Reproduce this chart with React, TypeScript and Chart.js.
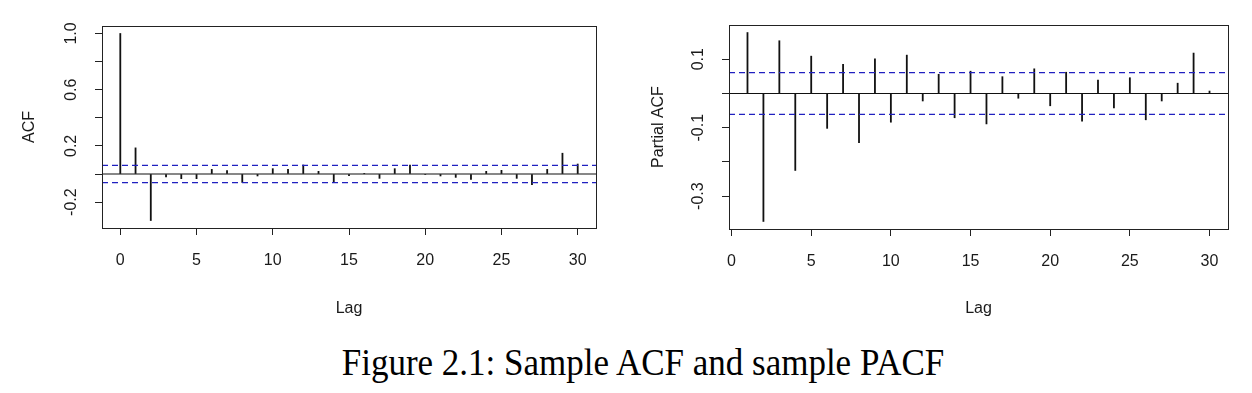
import React, { useEffect, useRef } from 'react';
import { Chart, registerables } from 'chart.js';

Chart.register(...registerables);

// ---------- data ----------
const acfLags = [0, 1, 2, 3, 4, 5, 6, 7, 8, 9, 10, 11, 12, 13, 14, 15, 16, 17, 18, 19, 20, 21, 22, 23, 24, 25, 26, 27, 28, 29, 30];
const acfValues = [1.0, 0.186, -0.331, -0.021, -0.033, -0.033, 0.033, 0.024, -0.06, -0.014, 0.038, 0.033, 0.064, 0.019, -0.06, -0.012, 0.002, -0.031, 0.038, 0.064, -0.003, -0.014, -0.024, -0.038, 0.019, 0.026, -0.031, -0.076, 0.033, 0.148, 0.071];

const pacfLags = [1, 2, 3, 4, 5, 6, 7, 8, 9, 10, 11, 12, 13, 14, 15, 16, 17, 18, 19, 20, 21, 22, 23, 24, 25, 26, 27, 28, 29, 30];
const pacfValues = [0.178, -0.374, 0.154, -0.225, 0.109, -0.102, 0.085, -0.144, 0.101, -0.084, 0.112, -0.022, 0.056, -0.071, 0.065, -0.089, 0.049, -0.014, 0.072, -0.036, 0.062, -0.081, 0.039, -0.042, 0.046, -0.077, -0.022, 0.03, 0.118, 0.007];

const confLimit = 0.061;

const xTickValues = [0, 5, 10, 15, 20, 25, 30];
const acfYTickValues = [-0.2, 0, 0.2, 0.4, 0.6, 0.8, 1.0];
const acfYTickLabels = ['-0.2', '', '0.2', '', '0.6', '', '1.0'];
const pacfYTickValues = [-0.3, -0.2, -0.1, 0, 0.1];
const pacfYTickLabels = ['-0.3', '', '-0.1', '', '0.1'];

const acfXRange = [-1.2, 31.2];
const acfYRange = [-0.3842, 1.0532];
const pacfXRange = [-0.16, 31.16];
const pacfYRange = [-0.396, 0.2];

const captionText = 'Figure 2.1: Sample ACF and sample PACF';

// ---------- styles ----------
const FONT = "'Liberation Sans', Arial, sans-serif";
const TEXT = '#1a1a1a';
const BLUE = '#2020c0';

const boxPlugin = {
  id: 'rbox',
  afterDatasetsDraw(chart: any) {
    const { ctx, chartArea: a } = chart;
    ctx.save();
    ctx.strokeStyle = '#222';
    ctx.lineWidth = 1;
    const l = Math.round(a.left), t = Math.round(a.top), r = Math.round(a.right), b = Math.round(a.bottom);
    ctx.strokeRect(l + 0.5, t + 0.5, r - l, b - t);
    ctx.restore();
  },
};

type PanelOpts = {
  lags: number[];
  values: number[];
  xRange: number[];
  yRange: number[];
  yTicks: number[];
  yLabels: string[];
  yTitle: string;
  padding: { top: number; right: number; bottom: number; left: number };
  yAxisWidth: number;
  xAxisHeight: number;
  yTitlePad: number;
  yTickPad: number;
  xTickPad: number;
  xTitlePad: number;
};

function buildConfig(o: PanelOpts): any {
  const [xMin, xMax] = o.xRange;
  const dashed = (v: number) => ({
    type: 'line',
    data: [{ x: xMin, y: v }, { x: xMax, y: v }],
    borderColor: BLUE,
    borderWidth: 1.2,
    borderDash: [6, 4],
    pointRadius: 0,
    order: 0,
  });
  return {
    type: 'bar',
    data: {
      datasets: [
        dashed(confLimit),
        dashed(-confLimit),
        {
          type: 'line',
          data: [{ x: xMin, y: 0 }, { x: xMax, y: 0 }],
          borderColor: '#111',
          borderWidth: 1.1,
          pointRadius: 0,
          order: 1,
        },
        {
          type: 'bar',
          data: o.lags.map((l, i) => ({ x: l, y: o.values[i] })),
          backgroundColor: '#111',
          barThickness: 1.15,
          order: 2,
        },
      ],
    },
    options: {
      animation: false,
      responsive: false,
      maintainAspectRatio: false,
      layout: { padding: o.padding },
      plugins: { legend: { display: false }, tooltip: { enabled: false }, title: { display: false } },
      scales: {
        x: {
          type: 'linear',
          min: xMin,
          max: xMax,
          offset: false,
          afterBuildTicks: (s: any) => {
            s.ticks = xTickValues.map((v) => ({ value: v }));
          },
          afterFit: (s: any) => {
            s.height = o.xAxisHeight;
          },
          ticks: {
            autoSkip: false,
            maxRotation: 0,
            minRotation: 0,
            padding: o.xTickPad,
            color: TEXT,
            font: { family: FONT, size: 16 },
          },
          grid: { offset: false, drawOnChartArea: false, drawTicks: true, tickLength: 7, tickColor: '#222', tickWidth: 1 },
          border: { display: false },
          title: { display: true, text: 'Lag', color: TEXT, font: { family: FONT, size: 16 }, padding: { top: 0, bottom: o.xTitlePad } },
        },
        y: {
          type: 'linear',
          min: o.yRange[0],
          max: o.yRange[1],
          afterBuildTicks: (s: any) => {
            s.ticks = o.yTicks.map((v) => ({ value: v }));
          },
          afterFit: (s: any) => {
            s.width = o.yAxisWidth;
          },
          ticks: {
            autoSkip: false,
            minRotation: 90,
            maxRotation: 90,
            crossAlign: 'center',
            padding: o.yTickPad,
            color: TEXT,
            font: { family: FONT, size: 16 },
            callback: (_v: any, i: number) => o.yLabels[i],
          },
          grid: { drawOnChartArea: false, drawTicks: true, tickLength: 7, tickColor: '#222', tickWidth: 1 },
          border: { display: false },
          title: { display: true, text: o.yTitle, color: TEXT, font: { family: FONT, size: 16 }, padding: { top: o.yTitlePad, bottom: 0 } },
        },
      },
    },
    plugins: [boxPlugin],
  };
}

function Panel(props: { opts: PanelOpts; left: number; width: number; height: number }) {
  const ref = useRef<HTMLCanvasElement | null>(null);
  useEffect(() => {
    if (!ref.current) return;
    const chart = new Chart(ref.current, buildConfig(props.opts));
    return () => chart.destroy();
  }, []);
  return (
    <canvas
      ref={ref}
      width={props.width}
      height={props.height}
      style={{ position: 'absolute', left: props.left, top: 0, width: props.width, height: props.height, background: '#fff' }}
    />
  );
}

export default function App() {
  const acfOpts: PanelOpts = {
    lags: acfLags,
    values: acfValues,
    xRange: acfXRange,
    yRange: acfYRange,
    yTicks: acfYTickValues,
    yLabels: acfYTickLabels,
    yTitle: 'ACF',
    padding: { top: 26, right: 34, bottom: 0, left: 0 },
    yAxisWidth: 102,
    xAxisHeight: 107,
    yTitlePad: 20.4,
    yTickPad: 9.2,
    xTickPad: 16.4,
    xTitlePad: 17,
  };
  const pacfOpts: PanelOpts = {
    lags: pacfLags,
    values: pacfValues,
    xRange: pacfXRange,
    yRange: pacfYRange,
    yTicks: pacfYTickValues,
    yLabels: pacfYTickLabels,
    yTitle: 'Partial ACF',
    padding: { top: 25, right: 24, bottom: 0, left: 0 },
    yAxisWidth: 99,
    xAxisHeight: 106,
    yTitlePad: 18.7,
    yTickPad: 9.9,
    xTickPad: 15.7,
    xTitlePad: 17,
  };
  return (
    <div style={{ position: 'absolute', left: 0, top: 0, width: 1252, height: 393, background: '#fff', overflow: 'hidden' }}>
      <Panel opts={acfOpts} left={0} width={630} height={335} />
      <Panel opts={pacfOpts} left={630} width={622} height={335} />
      <div
        style={{
          position: 'absolute',
          left: 643,
          top: 345.7,
          transform: 'translateX(-50%) scaleY(1.1)',
          transformOrigin: '50% 29px',
          whiteSpace: 'nowrap',
          fontFamily: "'Liberation Serif', 'Times New Roman', serif",
          fontSize: 35,
          lineHeight: '35px',
          color: '#000',
        }}
      >
        {captionText}
      </div>
    </div>
  );
}
